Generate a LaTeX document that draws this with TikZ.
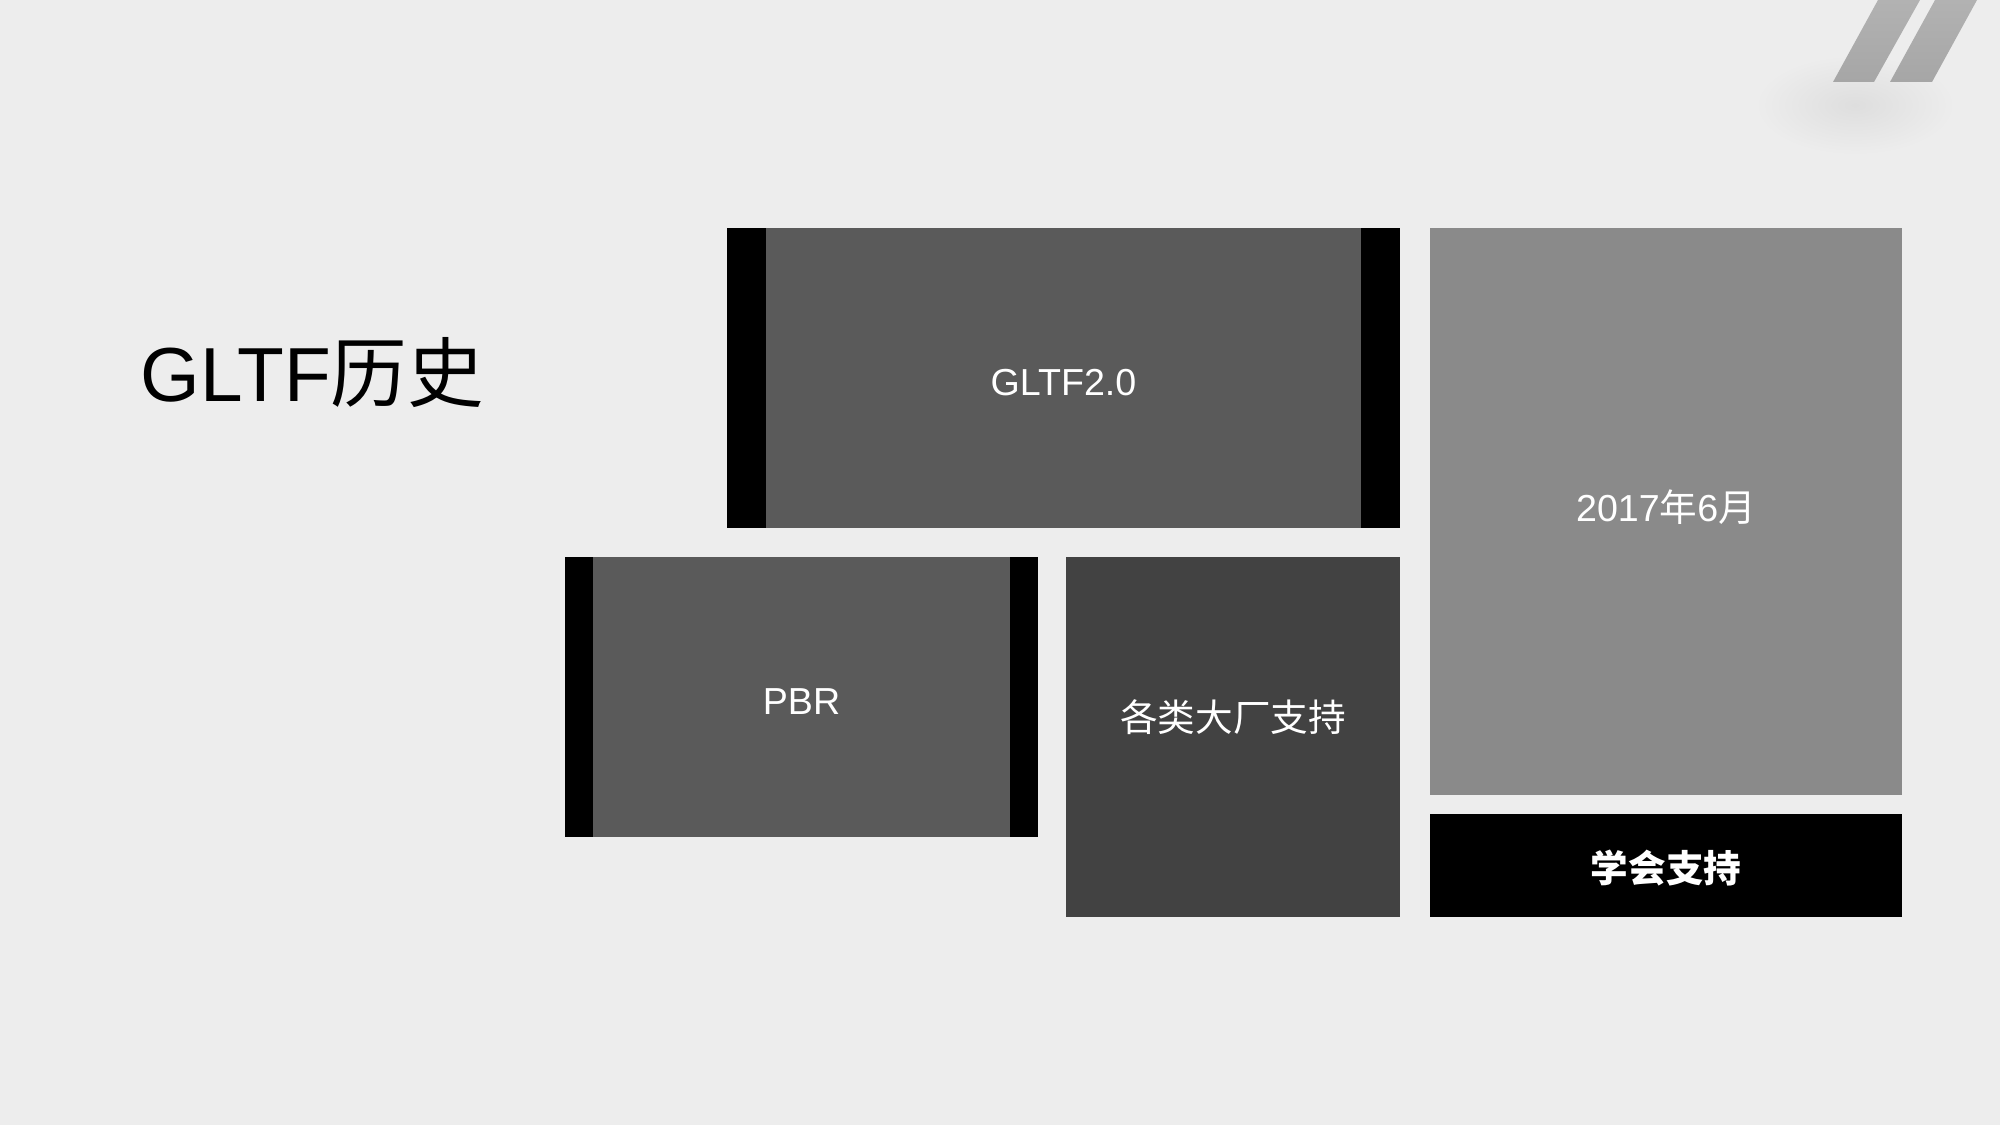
\documentclass[tikz,border=0pt]{standalone}
\usepackage{fontspec}
\setmainfont{Noto Sans CJK SC}
\newfontfamily\latin{Liberation Sans}
\usepackage{tikz}
\definecolor{fond}{HTML}{EDEDED}
\definecolor{grisA}{HTML}{5A5A5A}
\definecolor{grisB}{HTML}{424242}
\definecolor{grisC}{HTML}{8A8A8A}
\definecolor{barreH}{HTML}{B2B2B2}
\definecolor{barreB}{HTML}{A6A6A6}
\begin{document}
\begin{tikzpicture}[
	bloc/.style={inner sep=0pt,outer sep=0pt,text=white,font=\fontsize{10.7}{13}\selectfont},
	bord/.style={black}]
			% Fond
				\fill[fond] (0,0) rectangle (20,11.25);
\useasboundingbox (0,0) rectangle (20,11.25);
\shade[inner color=black!13,outer color=fond] (18.55,10.2) ellipse (1.0 and 0.5);
\shade[top color=barreH,bottom color=barreB] (18.33,10.43) -- (18.74,10.43) -- (19.20,11.25) -- (18.78,11.25) -- cycle;
\shade[top color=barreH,bottom color=barreB] (18.90,10.43) -- (19.32,10.43) -- (19.77,11.25) -- (19.35,11.25) -- cycle;
\node[anchor=west,inner sep=0pt,font=\fontsize{21.8}{26}\selectfont] (titre) at (1.40,7.52) {{\latin GLTF}历史};
			% Blocs
\node[bloc,fill=grisA,minimum width=6.73cm,minimum height=3cm,
  label={[bloc,yshift=-0.05cm]center:\latin GLTF2.0}] (gltf) at (10.635,7.47) {};
\fill[bord] (gltf.north west) rectangle ([xshift=0.39cm]gltf.south west);
\fill[bord] (gltf.north east) rectangle ([xshift=-0.39cm]gltf.south east);
\node[bloc,fill=grisA,minimum width=4.73cm,minimum height=2.8cm,
  label={[bloc,yshift=-0.05cm]center:\latin PBR}] (pbr) at (8.015,4.28) {};
\fill[bord] (pbr.north west) rectangle ([xshift=0.28cm]pbr.south west);
\fill[bord] (pbr.north east) rectangle ([xshift=-0.28cm]pbr.south east);
\node[bloc,fill=grisB,minimum width=3.34cm,minimum height=3.6cm,
  label={[bloc,yshift=0.2cm]center:各类大厂支持}] (soutien) at (12.33,3.88) {};
\node[bloc,fill=grisC,minimum width=4.72cm,minimum height=5.67cm,
  label={[bloc,yshift=0.04cm]center:{\latin 2017}年{\latin 6}月}] (date) at (16.66,6.135) {};
\node[bloc,fill=black,minimum width=4.72cm,minimum height=1.03cm,
  label={[bloc,yshift=-0.025cm,font=\fontsize{10.7}{13}\selectfont\bfseries]center:学会支持}] (khronos) at (16.66,2.595) {};
			\end{tikzpicture}
\end{document}
